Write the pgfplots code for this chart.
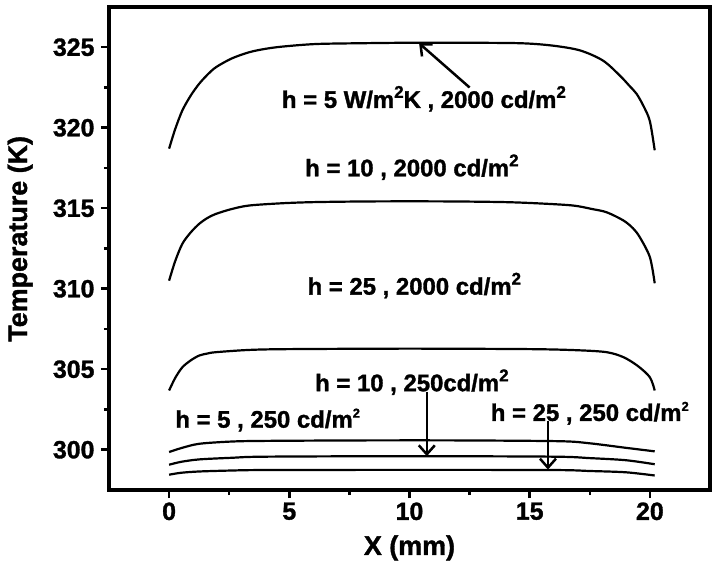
\documentclass[border=0pt]{standalone}
\usepackage{pgfplots}
\pgfplotsset{compat=1.18}
\usepackage{fontspec}
\setmainfont{Liberation Sans}[BoldFeatures={FakeBold=1.3}]
\usetikzlibrary{arrows.meta}
\newcommand{\sq}[1][15]{\raisebox{0.42em}{\fontsize{#1}{#1}\selectfont 2}}
\tikzset{curve/.style={black, line width=2.2bp, smooth, tension=0.5}}
\begin{document}
\begin{tikzpicture}
\begin{axis}[
  scale only axis,
  width=601bp, height=483bp,
  xmin=-2.5, xmax=22.5, ymin=297.5, ymax=327.5,
  xtick={0,5,10,15,20}, ytick={300,305,310,315,320,325},
  minor x tick num=1, minor y tick num=1,
  xtick pos=left, ytick pos=left,
  tick align=outside,
  major tick length=8bp, minor tick length=5bp,
  every tick/.style={black, line width=2.5bp},
  axis line style={line width=3.5bp},
  /pgf/number format/assume math mode=true,
  ticklabel style={font=\fontsize{25}{28}\selectfont\bfseries},
  xticklabel style={yshift=-1bp},
  yticklabel style={xshift=-3bp},
  xlabel={X (mm)}, ylabel={Temperature (K)},
  label style={font=\fontsize{27}{30}\selectfont\bfseries},
  xlabel style={at={(axis description cs:0.5,-0.12)}, anchor=center},
  ylabel style={at={(axis description cs:-0.148,0.52)}, anchor=center},
]
% h = 5, 2000
\addplot[curve] coordinates {(0,318.7) (0.25,319.9) (0.55,321.07) (0.9,322.0) (1.25,322.73) (1.6,323.3) (1.95,323.76) (2.6,324.3) (3.33,324.69) (4.0,324.9) (4.71,325.04) (6.1,325.2) (8,325.25) (10,325.28) (12,325.28) (14.6,325.25) (15.96,325.1) (17.1,324.8) (18.05,324.17) (18.75,323.24) (19.15,322.6) (19.45,322.1) (19.75,321.3) (20.0,320.4) (20.2,318.6)};
% h = 10, 2000
\addplot[curve] coordinates {(0,310.5) (0.25,311.7) (0.55,312.79) (0.9,313.5) (1.25,314.03) (1.6,314.4) (1.95,314.65) (2.6,314.95) (3.33,315.17) (4.7,315.31) (6,315.38) (8,315.42) (10,315.43) (12,315.42) (14,315.38) (15.4,315.3) (16.8,315.17) (17.6,314.95) (18.2,314.75) (18.9,314.24) (19.3,313.75) (19.58,313.2) (20.0,311.96) (20.2,310.34)};
% h = 25, 2000
\addplot[curve] coordinates {(0,303.68) (0.25,304.45) (0.55,305.12) (0.9,305.55) (1.25,305.85) (1.6,305.98) (1.95,306.06) (3.33,306.2) (5,306.25) (10,306.28) (15,306.25) (17,306.18) (18.2,306.06) (18.9,305.75) (19.5,305.2) (20.0,304.5) (20.2,303.68)};
% h = 5, 250
\addplot[curve] coordinates {(0,299.86) (0.5,300.1) (1.25,300.37) (2.6,300.51) (4,300.55) (8,300.58) (12,300.58) (16.25,300.53) (17.5,300.4) (19,300.12) (20.2,299.9)};
% h = 10, 250
\addplot[curve] coordinates {(0,299.07) (0.5,299.25) (1.25,299.4) (2.6,299.5) (4,299.57) (10,299.6) (16,299.57) (17.5,299.48) (19,299.35) (20.2,299.1)};
% h = 25, 250
\addplot[curve] coordinates {(0,298.45) (0.5,298.57) (1.25,298.65) (2.6,298.71) (4,298.74) (10,298.75) (16,298.74) (17.5,298.68) (19,298.6) (20.2,298.4)};

\begin{scope}[every node/.style={font=\fontsize{24}{26}\selectfont\bfseries, inner sep=0pt}]
\node at (axis cs:10.6,321.8) {h = 5 W/m\sq[17]K , 2000 cd/m\sq[17]};
\node at (axis cs:10.1,317.55) {h = 10 , 2000 cd/m\sq[17]};
\node at (axis cs:10.2,310.2) {h = 25 , 2000 cd/m\sq[17]};
\node at (axis cs:10.1,304.2) {h = 10 , 250cd/m\sq[17]};
\node at (axis cs:4.1,301.85) {h = 5 , 250 cd/m\sq[13]};
\node at (axis cs:17.5,302.27) {h = 25 , 250 cd/m\sq[13]};
\end{scope}
\draw[black, line width=2.5bp, -{Straight Barb[length=9bp,width=16bp]}] (axis cs:12.5,322.5) -- (axis cs:10.4,325.25);
\draw[black, line width=2.5bp, -{Straight Barb[length=9bp,width=16bp]}] (axis cs:10.72,303.6) -- (axis cs:10.72,299.6);
\draw[black, line width=2.5bp, -{Straight Barb[length=9bp,width=16bp]}] (axis cs:15.76,301.8) -- (axis cs:15.76,298.77);
\end{axis}
\pgfresetboundingbox
\path (-109bp,-78bp) rectangle (607bp,490bp);
\end{tikzpicture}
\end{document}
